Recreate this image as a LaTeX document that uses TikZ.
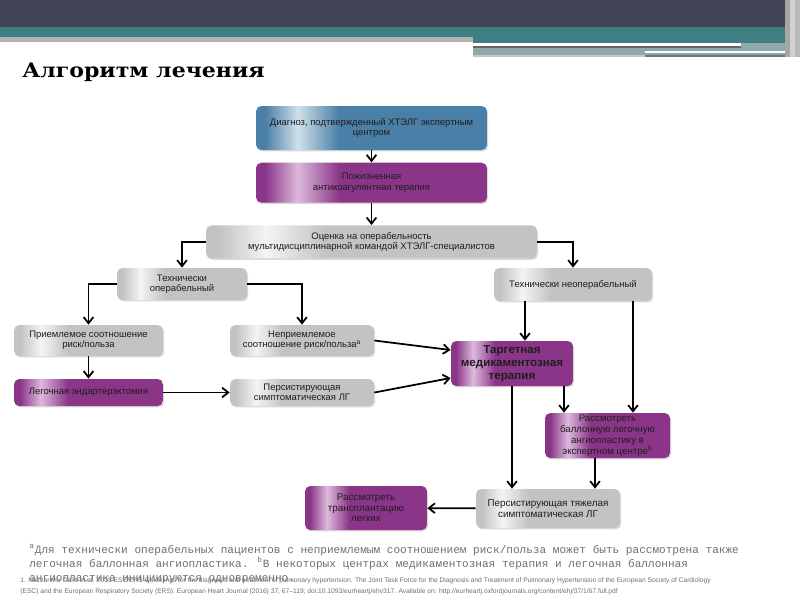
\documentclass[tikz,border=0pt]{standalone}
\usepackage{fontspec}
\setmainfont{Liberation Sans}
\newfontfamily\titlefont{DejaVu Serif}
\newfontfamily\notefont{Liberation Mono}
\usepackage{tikz}
\usetikzlibrary{arrows.meta, positioning, calc, shadows}
\definecolor{hdrdark}{HTML}{434357}
\definecolor{hdrteal}{HTML}{3F7F84}
\definecolor{hdrgray}{HTML}{8FA8AA}
\definecolor{boxblue}{HTML}{4A7FA8}
\definecolor{boxbluehi}{HTML}{CFE0EA}
\definecolor{boxpurple}{HTML}{8B3589}
\definecolor{boxpurplehi}{HTML}{DDB9DC}
\definecolor{boxgray}{HTML}{C3C3C3}
\definecolor{boxgrayhi}{HTML}{F4F4F4}
\definecolor{txtdark}{HTML}{1E1E1E}
\definecolor{notegray}{HTML}{6E6E6E}

\pgfdeclarehorizontalshading{blueshade}{100bp}{color(0bp)=(boxblue); color(27bp)=(boxblue);
  color(34bp)=(boxbluehi); color(43bp)=(boxblue); color(100bp)=(boxblue)}
\pgfdeclarehorizontalshading{purpleshade}{100bp}{color(0bp)=(boxpurple); color(27bp)=(boxpurple);
  color(34bp)=(boxpurplehi); color(43bp)=(boxpurple); color(100bp)=(boxpurple)}
\pgfdeclarehorizontalshading{grayshade}{100bp}{color(0bp)=(boxgray); color(27bp)=(boxgray);
  color(34bp)=(boxgrayhi); color(43bp)=(boxgray); color(100bp)=(boxgray)}

\begin{document}
\begin{tikzpicture}[x=0.02cm, y=-0.02cm,
    box/.style={rounded corners=3pt, align=center, inner sep=1pt, text=txtdark,
                font=\fontsize{5.4}{5.9}\selectfont,
                drop shadow={opacity=0.3, shadow xshift=0.6pt, shadow yshift=-0.8pt}},
    bluebox/.style={box, shade, shading=blueshade},
    purplebox/.style={box, shade, shading=purpleshade},
    graybox/.style={box, shade, shading=grayshade},
    arr/.style={-{Straight Barb[length=3.5pt, width=5.5pt]}, line width=1pt},
    note/.style={align=left, anchor=base west, inner sep=0pt}
]
    \useasboundingbox (0,0) rectangle (800,600);

    % header bands
    \fill[hdrdark] (0,0) rectangle (800,27);
    \fill[hdrteal] (0,27) rectangle (800,37);
    \fill[black!30] (0,37) rectangle (473,42);
    \fill[hdrteal] (473,37) rectangle (785,43);
    \fill[hdrgray] (473,43) rectangle (785,55);
    \fill[white] (473,43) rectangle (741,45.5);
    \fill[black!60] (473,46) rectangle (741,48);
    \fill[white] (645,51) rectangle (785,53);
    \fill[black!55] (645,55) rectangle (785,57);
    \fill[black!22] (473,55) rectangle (645,57);
    \fill[black!35] (785,0) rectangle (790,57);
    \fill[black!18] (790,0) rectangle (795,57);
    \fill[black!28] (795,0) rectangle (800,57);

    % title
    \node[anchor=base west, inner sep=0pt, font=\titlefont\bfseries\fontsize{11.4}{13}\selectfont]
         (title) at (22,77) {\scalebox{1.1}[1]{Алгоритм лечения}};

    % top chain
    \node[bluebox, minimum width=4.62cm, minimum height=0.88cm] (diag) at (371.5,128)
         {Диагноз, подтвержденный ХТЭЛГ экспертным\\центром};
    \node[purplebox, minimum width=4.62cm, minimum height=0.8cm, below=0.24cm of diag]
         (anticoag) {Пожизненная\\антикоагулянтная терапия};
    \node[graybox, minimum width=6.62cm, minimum height=0.66cm, below=0.44cm of anticoag]
         (eval) {Оценка на операбельность\\мультидисциплинарной командой ХТЭЛГ-специалистов};

    % operability
    \node[graybox, minimum width=2.6cm, minimum height=0.64cm] (techop) at (182,284)
         {Технически\\операбельный};
    \node[graybox, minimum width=3.16cm, minimum height=0.66cm] (techinop) at (573,284.5)
         {Технически неоперабельный};

    % left branch
    \node[graybox, minimum width=2.98cm, minimum height=0.62cm] (accept) at (88.5,340.5)
         {Приемлемое соотношение\\риск/польза};
    \node[graybox, minimum width=2.88cm, minimum height=0.62cm] (unaccept) at (302,340.5)
         {Неприемлемое\\соотношение риск/польза\textsuperscript{a}};
    \node[purplebox, minimum width=2.98cm, minimum height=0.54cm] (pea) at (88.5,392.5)
         {Легочная эндартерэктомия};
    \node[graybox, minimum width=2.88cm, minimum height=0.54cm] (persist) at (302,392.5)
         {Персистирующая\\симптоматическая ЛГ};

    % right branch
    \node[purplebox, minimum width=2.44cm, minimum height=0.9cm,
          font=\bfseries\fontsize{6.6}{7.4}\selectfont] (target) at (512,363.5)
         {Таргетная\\медикаментозная\\терапия};
    \node[purplebox, minimum width=2.5cm, minimum height=0.9cm,
          font=\fontsize{5.5}{6.2}\selectfont] (bpa) at (607.5,435.5)
         {Рассмотреть\\баллонную легочную\\ангиопластику в\\экспертном центре\textsuperscript{b}};
    \node[graybox, minimum width=2.88cm, minimum height=0.78cm,
          font=\fontsize{5.6}{5.9}\selectfont] (sevph) at (548,508.5)
         {Персистирующая тяжелая\\симптоматическая ЛГ};
    \node[purplebox, minimum width=2.44cm, minimum height=0.88cm,
          font=\fontsize{5.6}{6}\selectfont] (transpl) at (366,508)
         {Рассмотреть\\трансплантацию\\легких};

    % arrows
    \draw[arr] (diag) -- (anticoag);
    \draw[arr] (anticoag) -- (eval);
    \draw[arr] (eval.west) -| (techop.north);
    \draw[arr] (eval.east) -| (techinop.north);
    \draw[arr] (techop.west) -| (accept.north);
    \draw[arr] (techop.east) -| (unaccept.north);
    \draw[arr] (accept) -- (pea);
    \draw[arr] (pea) -- (persist);
    \draw[arr] (unaccept.east) -- ([yshift=0.27cm]target.west);
    \draw[arr] (persist.east) -- ([yshift=-0.29cm]target.west);
    \draw[arr] ([xshift=0.26cm]target.north |- techinop.south) -- ([xshift=0.26cm]target.north);
    \draw[arr] ([xshift=0.51cm]bpa.north |- techinop.south) -- ([xshift=0.51cm]bpa.north);
    \draw[arr] ([xshift=-0.87cm]bpa.north |- target.south) -- ([xshift=-0.87cm]bpa.north);
    \draw[arr] (target.south) -- (target.south |- sevph.north);
    \draw[arr] ([xshift=-0.25cm]bpa.south) -- ([xshift=-0.25cm]bpa.south |- sevph.north);
    \draw[arr] (sevph) -- (transpl);

    % footnotes (base = last line)
    \node[note, text=notegray, font=\notefont\fontsize{6.3}{7.9}\selectfont] (fnote) at (29,581)
         {\textsuperscript{a}Для технически операбельных пациентов с неприемлемым соотношением риск/польза может быть рассмотрена также\\
          легочная баллонная ангиопластика. \textsuperscript{b}В некоторых центрах медикаментозная терапия и легочная баллонная\\
          ангиопластика инициируются одновременно.};
    \node[note, text=notegray, font=\fontsize{3.8}{5.8}\selectfont] (source) at (20,593)
         {1. Nazzareno Galiè et al. 2015 ESC/ERS Guidelines for the diagnosis and treatment of pulmonary hypertension. The Joint Task Force for the Diagnosis and Treatment of Pulmonary Hypertension of the European Society of Cardiology\\
          (ESC) and the European Respiratory Society (ERS). European Heart Journal (2016) 37, 67--119; doi:10.1093/eurheartj/ehv317. Available on: http://eurheartj.oxfordjournals.org/content/ehj/37/1/67.full.pdf};
\end{tikzpicture}
\end{document}
